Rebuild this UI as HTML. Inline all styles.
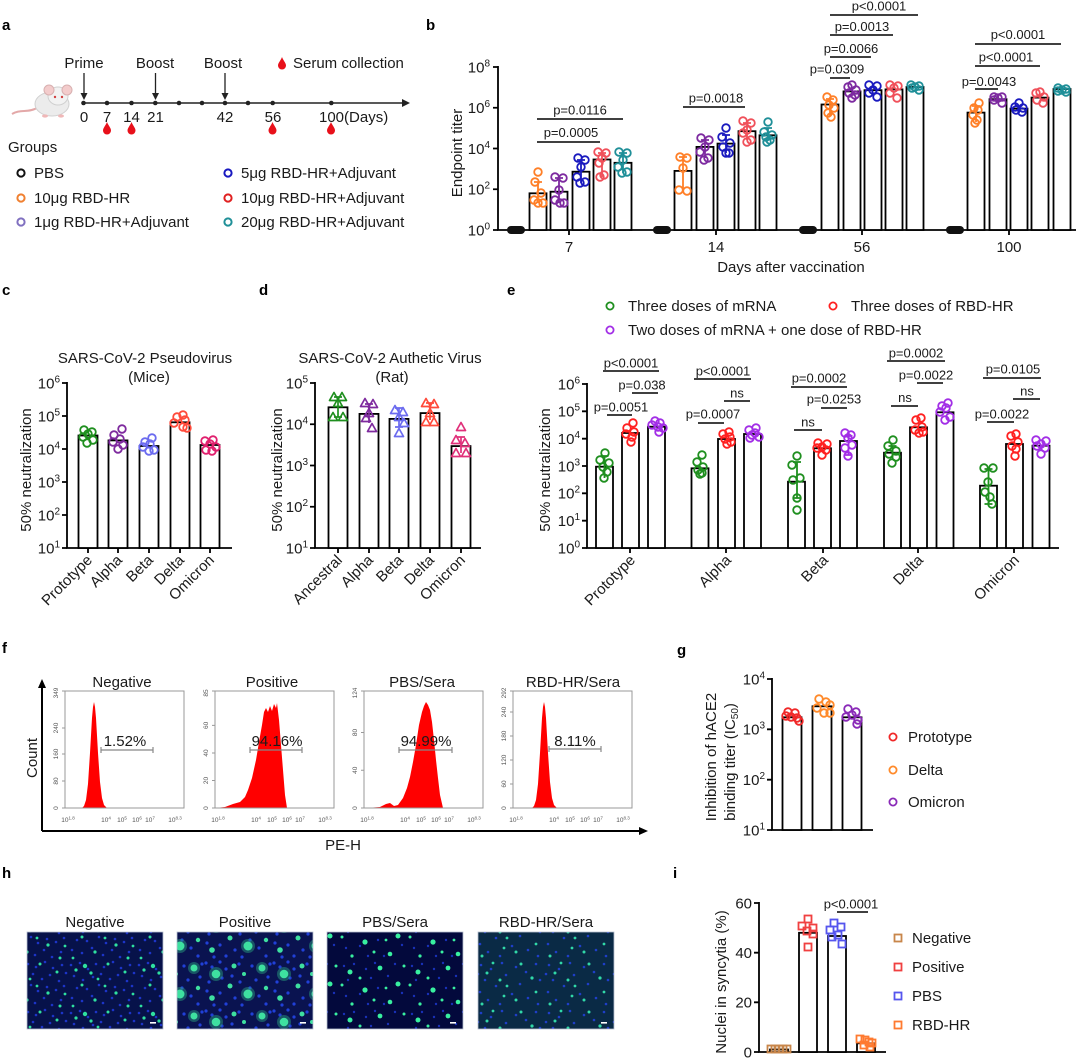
<!DOCTYPE html>
<html><head><meta charset="utf-8">
<style>
html,body{margin:0;padding:0;background:#fff}
svg{display:block}
text{font-family:"Liberation Sans",Arial,sans-serif;font-size:15px;fill:#1a1a1a}
.p{font-size:13px}
.L{font-weight:bold;font-size:15px;fill:#000}
.s{font-size:10px}
.tk{font-size:6.5px;fill:#555}
.ts{font-size:4.5px;fill:#555}
.ax{stroke:#000;stroke-width:1.8;fill:none}
.bar{fill:#fff;stroke:#000;stroke-width:1.8}
.pl{stroke:#000;stroke-width:1.5;fill:none}
</style></head><body>
<svg width="1080" height="1058" viewBox="0 0 1080 1058" xmlns="http://www.w3.org/2000/svg">
<defs>
<pattern id="pn" width="68" height="48" patternUnits="userSpaceOnUse">
<rect width="68" height="48" fill="#07124a"/>
<g fill="#1c34c8"><circle cx="3" cy="5" r="1.3"/><circle cx="12" cy="3" r="1.3"/><circle cx="20" cy="9" r="1.3"/><circle cx="28" cy="4" r="1.3"/><circle cx="36" cy="7" r="1.3"/><circle cx="45" cy="2" r="1.3"/><circle cx="53" cy="8" r="1.3"/><circle cx="62" cy="5" r="1.3"/><circle cx="6" cy="16" r="1.3"/><circle cx="15" cy="20" r="1.3"/><circle cx="25" cy="17" r="1.3"/><circle cx="33" cy="14" r="1.3"/><circle cx="42" cy="19" r="1.3"/><circle cx="50" cy="15" r="1.3"/><circle cx="59" cy="21" r="1.3"/><circle cx="66" cy="13" r="1.3"/><circle cx="9" cy="28" r="1.3"/><circle cx="19" cy="29" r="1.3"/><circle cx="31" cy="25" r="1.3"/><circle cx="38" cy="31" r="1.3"/><circle cx="47" cy="27" r="1.3"/><circle cx="56" cy="30" r="1.3"/><circle cx="64" cy="26" r="1.3"/><circle cx="4" cy="38" r="1.3"/><circle cx="14" cy="41" r="1.3"/><circle cx="24" cy="36" r="1.3"/><circle cx="35" cy="43" r="1.3"/><circle cx="44" cy="38" r="1.3"/><circle cx="52" cy="45" r="1.3"/><circle cx="61" cy="40" r="1.3"/></g>
<g fill="#2ee0a0"><circle cx="8" cy="10" r="1.6"/><circle cx="23" cy="13" r="1.6"/><circle cx="14" cy="25" r="1.5"/><circle cx="30" cy="19" r="1.4"/><circle cx="40" cy="4" r="1.5"/><circle cx="48" cy="33" r="1.6"/><circle cx="57" cy="12" r="1.5"/><circle cx="65" cy="34" r="1.4"/><circle cx="27" cy="40" r="1.6"/><circle cx="5" cy="46" r="1.4"/><circle cx="37" cy="26" r="1.4"/><circle cx="60" cy="46" r="1.5"/><circle cx="17" cy="6" r="2.2"/></g>
</pattern>
<pattern id="pp" width="68" height="48" patternUnits="userSpaceOnUse">
<rect width="68" height="48" fill="#0a1350"/>
<g fill="#2040d8"><circle cx="2" cy="3" r="1.6"/><circle cx="8" cy="7" r="1.6"/><circle cx="16" cy="2" r="1.6"/><circle cx="22" cy="9" r="1.6"/><circle cx="35" cy="4" r="1.6"/><circle cx="48" cy="6" r="1.6"/><circle cx="66" cy="4" r="1.6"/><circle cx="5" cy="22" r="1.6"/><circle cx="18" cy="18" r="1.6"/><circle cx="28" cy="16" r="1.6"/><circle cx="36" cy="22" r="1.6"/><circle cx="52" cy="20" r="1.6"/><circle cx="64" cy="17" r="1.6"/><circle cx="3" cy="31" r="1.6"/><circle cx="16" cy="33" r="1.6"/><circle cx="31" cy="38" r="1.6"/><circle cx="38" cy="45" r="1.6"/><circle cx="55" cy="36" r="1.6"/><circle cx="62" cy="44" r="1.6"/><circle cx="22" cy="44" r="1.6"/><circle cx="10" cy="45" r="1.6"/><circle cx="46" cy="28" r="1.6"/></g>
<g fill="#2aa880" opacity="0.45"><circle cx="12" cy="14" r="7"/><circle cx="44" cy="34" r="7"/><circle cx="58" cy="8" r="6"/></g>
<g fill="#3ee0a0"><circle cx="12" cy="14" r="4.3"/><circle cx="44" cy="34" r="4.5"/><circle cx="58" cy="8" r="3.5"/><circle cx="30" cy="6" r="2.5"/><circle cx="26" cy="26" r="2.5"/><circle cx="62" cy="28" r="2.2"/><circle cx="8" cy="38" r="2.8"/><circle cx="40" cy="14" r="2"/></g>
</pattern>
<pattern id="ps" width="68" height="48" patternUnits="userSpaceOnUse">
<rect width="68" height="48" fill="#03093c"/>
<g fill="#1830b8"><circle cx="4" cy="6" r="1.2"/><circle cx="14" cy="4" r="1.2"/><circle cx="26" cy="9" r="1.2"/><circle cx="35" cy="3" r="1.2"/><circle cx="8" cy="20" r="1.2"/><circle cx="20" cy="34" r="1.2"/><circle cx="31" cy="18" r="1.2"/><circle cx="38" cy="28" r="1.2"/><circle cx="48" cy="16" r="1.2"/><circle cx="55" cy="4" r="1.2"/><circle cx="62" cy="33" r="1.2"/><circle cx="44" cy="44" r="1.2"/><circle cx="6" cy="36" r="1.2"/><circle cx="28" cy="44" r="1.2"/></g>
<g fill="#38f0a0"><circle cx="10" cy="12" r="2.5"/><circle cx="40" cy="8" r="2.4"/><circle cx="25" cy="30" r="2.6"/><circle cx="58" cy="24" r="2.5"/><circle cx="50" cy="42" r="2.3"/><circle cx="2" cy="25" r="1.5"/><circle cx="20" cy="18" r="1.5"/><circle cx="34" cy="40" r="1.5"/><circle cx="64" cy="6" r="1.5"/><circle cx="12" cy="44" r="1.6"/><circle cx="46" cy="28" r="1.4"/></g>
</pattern>
<pattern id="pr" width="68" height="48" patternUnits="userSpaceOnUse">
<rect width="68" height="48" fill="#0a2a45"/>
<g fill="#1e3ec8"><circle cx="5" cy="5" r="1.3"/><circle cx="15" cy="9" r="1.3"/><circle cx="26" cy="3" r="1.3"/><circle cx="30" cy="15" r="1.3"/><circle cx="9" cy="20" r="1.3"/><circle cx="20" cy="26" r="1.3"/><circle cx="2" cy="14" r="1.3"/><circle cx="40" cy="7" r="1.3"/><circle cx="50" cy="12" r="1.3"/><circle cx="60" cy="4" r="1.3"/><circle cx="64" cy="20" r="1.3"/><circle cx="44" cy="24" r="1.3"/><circle cx="36" cy="34" r="1.3"/><circle cx="52" cy="38" r="1.3"/><circle cx="62" cy="44" r="1.3"/><circle cx="12" cy="40" r="1.3"/><circle cx="24" cy="44" r="1.3"/><circle cx="4" cy="32" r="1.3"/></g>
<g fill="#30d8a8"><circle cx="11" cy="13" r="1.5"/><circle cx="24" cy="20" r="1.5"/><circle cx="31" cy="26" r="1.4"/><circle cx="17" cy="3" r="1.4"/><circle cx="45" cy="4" r="1.5"/><circle cx="56" cy="18" r="1.6"/><circle cx="40" cy="40" r="1.5"/><circle cx="60" cy="32" r="1.4"/><circle cx="6" cy="44" r="1.5"/><circle cx="28" cy="36" r="1.4"/></g>
</pattern>
</defs>

<!-- ================= a ================= -->
<text class="L" x="2" y="30">a</text>
<path d="M37,108 C28,113 20,109 12,114" stroke="#e3a8a8" stroke-width="2" fill="none"/>
<ellipse cx="52" cy="104" rx="17" ry="12" fill="#ececec" stroke="#d0d0d0"/>
<ellipse cx="58" cy="96" rx="10" ry="9" fill="#f2f2f2" stroke="#d0d0d0"/>
<circle cx="49" cy="90" r="5" fill="#f3cccc" stroke="#d8b0b0"/>
<circle cx="67" cy="90" r="5" fill="#f3cccc" stroke="#d8b0b0"/>
<circle cx="55" cy="97" r="1.2" fill="#d04040"/><circle cx="62" cy="97" r="1.2" fill="#d04040"/>
<ellipse cx="45" cy="116" rx="3" ry="1.6" fill="#f0b8b8"/><ellipse cx="61" cy="116" rx="3" ry="1.6" fill="#f0b8b8"/>
<path d="M83,103H404" stroke="#222" stroke-width="1.5"/>
<path d="M402,99 L410,103 L402,107Z" fill="#222"/>
<g fill="#222"><circle cx="83.5" cy="103" r="2.3"/><circle cx="107" cy="103" r="2.3"/><circle cx="131.5" cy="103" r="2.3"/><circle cx="155.3" cy="103" r="2.3"/><circle cx="179" cy="103" r="2.3"/><circle cx="202" cy="103" r="2.3"/><circle cx="225" cy="103" r="2.3"/><circle cx="248" cy="103" r="2.3"/><circle cx="272.7" cy="103" r="2.3"/><circle cx="331.3" cy="103" r="2.3"/></g>
<path d="M84,73V96M155.5,73V96M225,73V96" stroke="#222" stroke-width="1.3"/>
<path d="M80.5,93 L84,100 L87.5,93Z M152,93 L155.5,100 L159,93Z M221.5,93 L225,100 L228.5,93Z" fill="#222"/>
<text x="84" y="68" text-anchor="middle">Prime</text>
<text x="155" y="68" text-anchor="middle">Boost</text>
<text x="223" y="68" text-anchor="middle">Boost</text>
<text x="84" y="122" text-anchor="middle">0</text>
<text x="107" y="122" text-anchor="middle">7</text>
<text x="131.5" y="122" text-anchor="middle">14</text>
<text x="155.5" y="122" text-anchor="middle">21</text>
<text x="225" y="122" text-anchor="middle">42</text>
<text x="273" y="122" text-anchor="middle">56</text>
<text x="319" y="122">100(Days)</text>
<g fill="#e8101a">
<path d="M107,122 C108,125 111,128 111,130.5 A4,4 0 0 1 103,130.5 C103,128 106,125 107,122Z"/>
<path d="M131.5,122 C132.5,125 135.5,128 135.5,130.5 A4,4 0 0 1 127.5,130.5 C127.5,128 130.5,125 131.5,122Z"/>
<path d="M272.5,122 C273.5,125 276.5,128 276.5,130.5 A4,4 0 0 1 268.5,130.5 C268.5,128 271.5,125 272.5,122Z"/>
<path d="M331,122 C332,125 335,128 335,130.5 A4,4 0 0 1 327,130.5 C327,128 330,125 331,122Z"/>
<path d="M282,57 C283,60 286,63 286,65.5 A4,4 0 0 1 278,65.5 C278,63 281,60 282,57Z"/>
</g>
<text x="293" y="68">Serum collection</text>
<text x="8" y="152">Groups</text>
<g fill="none" stroke-width="2">
<circle cx="21" cy="173" r="3.6" stroke="#111"/>
<circle cx="21" cy="198" r="3.6" stroke="#f08030"/>
<circle cx="21" cy="222" r="3.6" stroke="#8070c0"/>
<circle cx="228" cy="173" r="3.6" stroke="#1818c0"/>
<circle cx="228" cy="198" r="3.6" stroke="#e02020"/>
<circle cx="228" cy="222" r="3.6" stroke="#209098"/>
</g>
<text x="34" y="178">PBS</text>
<text x="34" y="203">10μg RBD-HR</text>
<text x="34" y="227">1μg RBD-HR+Adjuvant</text>
<text x="241" y="178">5μg RBD-HR+Adjuvant</text>
<text x="241" y="203">10μg RBD-HR+Adjuvant</text>
<text x="241" y="227">20μg RBD-HR+Adjuvant</text>

<!-- ================= b ================= -->
<text class="L" x="426" y="30">b</text>
<path class="ax" d="M498,66V230H1076"/>
<path class="ax" d="M493,67H498M493,107.75H498M493,148.5H498M493,189.25H498M493,230H498M569,230v5M716,230v5M862,230v5M1009,230v5"/>
<text x="490" y="72.3" text-anchor="end">10<tspan class="s" dy="-6">8</tspan></text>
<text x="490" y="113" text-anchor="end">10<tspan class="s" dy="-6">6</tspan></text>
<text x="490" y="153.8" text-anchor="end">10<tspan class="s" dy="-6">4</tspan></text>
<text x="490" y="194.5" text-anchor="end">10<tspan class="s" dy="-6">2</tspan></text>
<text x="490" y="235.3" text-anchor="end">10<tspan class="s" dy="-6">0</tspan></text>
<text transform="translate(462,153) rotate(-90)" text-anchor="middle">Endpoint titer</text>
<text x="569" y="252" text-anchor="middle">7</text>
<text x="716" y="252" text-anchor="middle">14</text>
<text x="862" y="252" text-anchor="middle">56</text>
<text x="1009" y="252" text-anchor="middle">100</text>
<text x="791" y="272" text-anchor="middle">Days after vaccination</text>
<g class="bar">
<rect x="529.5" y="193.3" width="17" height="36.7"/><rect x="550.5" y="191.7" width="17" height="38.3"/><rect x="572.5" y="171.7" width="17" height="58.3"/><rect x="593.5" y="159.5" width="17" height="70.5"/><rect x="614.5" y="162.8" width="17" height="67.2"/>
<rect x="674.5" y="170.9" width="17" height="59.1"/><rect x="696.5" y="146.9" width="17" height="83.1"/><rect x="717.5" y="143.6" width="17" height="86.4"/><rect x="738.5" y="131.2" width="17" height="98.8"/><rect x="759.5" y="135.3" width="17" height="94.7"/>
<rect x="821.5" y="104.5" width="17" height="125.5"/><rect x="843.5" y="91.4" width="17" height="138.6"/><rect x="864.5" y="90.2" width="17" height="139.8"/><rect x="885.5" y="89.4" width="17" height="140.6"/><rect x="906.5" y="87" width="17" height="143"/>
<rect x="967.5" y="112.6" width="17" height="117.4"/><rect x="989.5" y="99.2" width="17" height="130.8"/><rect x="1010.5" y="108.6" width="17" height="121.4"/><rect x="1031.5" y="97.6" width="17" height="132.4"/><rect x="1053.5" y="89" width="17" height="141"/>
</g>
<g fill="#111"><rect x="507" y="226" width="18" height="8" rx="4"/><rect x="653" y="226" width="18" height="8" rx="4"/><rect x="799" y="226" width="18" height="8" rx="4"/><rect x="946" y="226" width="18" height="8" rx="4"/></g>
<g fill="none" stroke-width="1.8">
<g stroke="#ff7f27">
<path d="M538,182V203M534,182h8M683,157V191M679,157h8M830,99V116M826,99h8M976,106V122M972,106h8"/>
<circle cx="538" cy="172" r="3.8"/><circle cx="535" cy="182" r="3.8"/><circle cx="541" cy="193" r="3.8"/><circle cx="534" cy="200" r="3.8"/><circle cx="538" cy="203" r="3.8"/><circle cx="543" cy="203" r="3.8"/>
<circle cx="680" cy="157" r="3.8"/><circle cx="687" cy="158" r="3.8"/><circle cx="683" cy="168" r="3.8"/><circle cx="679" cy="190" r="3.8"/><circle cx="687" cy="191" r="3.8"/>
<circle cx="827" cy="97" r="3.8"/><circle cx="833" cy="100" r="3.8"/><circle cx="829" cy="105" r="3.8"/><circle cx="834" cy="108" r="3.8"/><circle cx="828" cy="113" r="3.8"/><circle cx="831" cy="117" r="3.8"/>
<circle cx="979" cy="103" r="3.8"/><circle cx="974" cy="108" r="3.8"/><circle cx="978" cy="110" r="3.8"/><circle cx="973" cy="115" r="3.8"/><circle cx="977" cy="120" r="3.8"/><circle cx="975" cy="123" r="3.8"/>
</g>
<g stroke="#7d2aa0">
<path d="M559,178V203M555,178h8M705,140V158M701,140h8"/>
<circle cx="555" cy="177" r="3.8"/><circle cx="563" cy="178" r="3.8"/><circle cx="559" cy="190" r="3.8"/><circle cx="555" cy="200" r="3.8"/><circle cx="560" cy="203" r="3.8"/><circle cx="564" cy="203" r="3.8"/>
<circle cx="701" cy="138" r="3.8"/><circle cx="709" cy="140" r="3.8"/><circle cx="705" cy="147" r="3.8"/><circle cx="700" cy="152" r="3.8"/><circle cx="708" cy="158" r="3.8"/><circle cx="704" cy="160" r="3.8"/>
<circle cx="852" cy="85" r="3.8"/><circle cx="848" cy="87" r="3.8"/><circle cx="856" cy="90" r="3.8"/><circle cx="849" cy="93" r="3.8"/><circle cx="855" cy="95" r="3.8"/><circle cx="852" cy="98" r="3.8"/>
<circle cx="994" cy="97" r="3.8"/><circle cx="1002" cy="97" r="3.8"/><circle cx="998" cy="98" r="3.8"/><circle cx="994" cy="100" r="3.8"/><circle cx="1002" cy="103" r="3.8"/>
</g>
<g stroke="#1a1abf">
<path d="M581,160V183M577,160h8M726,135V153M722,135h8"/>
<circle cx="578" cy="158" r="3.8"/><circle cx="585" cy="160" r="3.8"/><circle cx="581" cy="167" r="3.8"/><circle cx="577" cy="177" r="3.8"/><circle cx="585" cy="182" r="3.8"/><circle cx="580" cy="183" r="3.8"/>
<circle cx="726" cy="128" r="3.8"/><circle cx="722" cy="137" r="3.8"/><circle cx="730" cy="143" r="3.8"/><circle cx="723" cy="147" r="3.8"/><circle cx="729" cy="153" r="3.8"/><circle cx="726" cy="153" r="3.8"/>
<circle cx="869" cy="85" r="3.8"/><circle cx="877" cy="86" r="3.8"/><circle cx="873" cy="90" r="3.8"/><circle cx="869" cy="93" r="3.8"/><circle cx="877" cy="97" r="3.8"/>
<circle cx="1019" cy="103" r="3.8"/><circle cx="1015" cy="107" r="3.8"/><circle cx="1023" cy="108" r="3.8"/><circle cx="1016" cy="110" r="3.8"/><circle cx="1022" cy="112" r="3.8"/>
</g>
<g stroke="#f0505a">
<path d="M602,153V177M598,153h8M747,123V140M743,123h8"/>
<circle cx="598" cy="152" r="3.8"/><circle cx="606" cy="153" r="3.8"/><circle cx="602" cy="158" r="3.8"/><circle cx="599" cy="163" r="3.8"/><circle cx="604" cy="175" r="3.8"/><circle cx="600" cy="177" r="3.8"/>
<circle cx="743" cy="121" r="3.8"/><circle cx="751" cy="123" r="3.8"/><circle cx="747" cy="130" r="3.8"/><circle cx="743" cy="133" r="3.8"/><circle cx="751" cy="140" r="3.8"/><circle cx="747" cy="142" r="3.8"/>
<circle cx="890" cy="85" r="3.8"/><circle cx="898" cy="86" r="3.8"/><circle cx="894" cy="88" r="3.8"/><circle cx="890" cy="93" r="3.8"/><circle cx="897" cy="98" r="3.8"/>
<circle cx="1040" cy="92" r="3.8"/><circle cx="1036" cy="93" r="3.8"/><circle cx="1044" cy="97" r="3.8"/><circle cx="1037" cy="100" r="3.8"/><circle cx="1043" cy="103" r="3.8"/>
</g>
<g stroke="#1f8f98">
<path d="M623,153V173M619,153h8M768,128V140M764,128h8"/>
<circle cx="619" cy="152" r="3.8"/><circle cx="627" cy="153" r="3.8"/><circle cx="623" cy="160" r="3.8"/><circle cx="618" cy="167" r="3.8"/><circle cx="627" cy="172" r="3.8"/><circle cx="622" cy="173" r="3.8"/>
<circle cx="768" cy="122" r="3.8"/><circle cx="764" cy="132" r="3.8"/><circle cx="772" cy="135" r="3.8"/><circle cx="766" cy="137" r="3.8"/><circle cx="770" cy="140" r="3.8"/><circle cx="767" cy="142" r="3.8"/>
<circle cx="911" cy="85" r="3.8"/><circle cx="919" cy="86" r="3.8"/><circle cx="915" cy="87" r="3.8"/><circle cx="912" cy="88" r="3.8"/><circle cx="919" cy="90" r="3.8"/>
<circle cx="1058" cy="88" r="3.8"/><circle cx="1066" cy="89" r="3.8"/><circle cx="1062" cy="90" r="3.8"/><circle cx="1058" cy="91" r="3.8"/><circle cx="1066" cy="92" r="3.8"/>
</g>
</g>
<path class="pl" d="M537,119H623M537,142H600M683,107H745M830,78H850M830,57H871M830,35H893M830,15H918M975,89H998M975,66H1040M975,44H1061"/>
<g text-anchor="middle">
<text class="p" x="580" y="114.5">p=0.0116</text>
<text class="p" x="571" y="137">p=0.0005</text>
<text class="p" x="716" y="102.5">p=0.0018</text>
<text class="p" x="837" y="73.5">p=0.0309</text>
<text class="p" x="851" y="53">p=0.0066</text>
<text class="p" x="862" y="31">p=0.0013</text>
<text class="p" x="879" y="10.5">p&lt;0.0001</text>
<text class="p" x="989" y="86">p=0.0043</text>
<text class="p" x="1006" y="61.5">p&lt;0.0001</text>
<text class="p" x="1018" y="39">p&lt;0.0001</text>
</g>

<!-- ================= c ================= -->
<text class="L" x="2" y="295">c</text>
<text x="145" y="363" text-anchor="middle">SARS-CoV-2 Pseudovirus</text>
<text x="149" y="382" text-anchor="middle">(Mice)</text>
<path class="ax" d="M67,382V548H232"/>
<path class="ax" d="M62,383H67M62,416H67M62,449H67M62,482H67M62,515H67M62,548H67M88,548v5M118,548v5M149,548v5M180,548v5M210,548v5"/>
<text x="60" y="388.3" text-anchor="end">10<tspan class="s" dy="-6">6</tspan></text>
<text x="60" y="421.3" text-anchor="end">10<tspan class="s" dy="-6">5</tspan></text>
<text x="60" y="454.3" text-anchor="end">10<tspan class="s" dy="-6">4</tspan></text>
<text x="60" y="487.3" text-anchor="end">10<tspan class="s" dy="-6">3</tspan></text>
<text x="60" y="520.3" text-anchor="end">10<tspan class="s" dy="-6">2</tspan></text>
<text x="60" y="553.3" text-anchor="end">10<tspan class="s" dy="-6">1</tspan></text>
<text transform="translate(31,470) rotate(-90)" text-anchor="middle">50% neutralization</text>
<g class="bar">
<rect x="78.5" y="435.5" width="19" height="112.5"/><rect x="108.5" y="440.4" width="19" height="107.6"/><rect x="139.5" y="446" width="19" height="102"/><rect x="170.5" y="422.3" width="19" height="125.7"/><rect x="200.5" y="445" width="19" height="103"/>
</g>
<g fill="none" stroke-width="1.8">
<g stroke="#1f8f1f"><circle cx="84" cy="430" r="3.8"/><circle cx="92" cy="432" r="3.8"/><circle cx="88" cy="434" r="3.8"/><circle cx="83" cy="437" r="3.8"/><circle cx="93" cy="440" r="3.8"/><circle cx="87" cy="443" r="3.8"/></g>
<g stroke="#7e2a9e"><circle cx="122" cy="429" r="3.8"/><circle cx="114" cy="435" r="3.8"/><circle cx="120" cy="439" r="3.8"/><circle cx="113" cy="442" r="3.8"/><circle cx="123" cy="445" r="3.8"/><circle cx="118" cy="449" r="3.8"/></g>
<g stroke="#6b6bef"><circle cx="152" cy="438" r="3.8"/><circle cx="145" cy="442" r="3.8"/><circle cx="150" cy="444" r="3.8"/><circle cx="143" cy="447" r="3.8"/><circle cx="154" cy="450" r="3.8"/><circle cx="149" cy="451" r="3.8"/></g>
<g stroke="#ff4a3a"><circle cx="183" cy="415" r="3.8"/><circle cx="177" cy="417" r="3.8"/><circle cx="185" cy="420" r="3.8"/><circle cx="174" cy="423" r="3.8"/><circle cx="183" cy="427" r="3.8"/><circle cx="187" cy="428" r="3.8"/></g>
<g stroke="#e0206e"><circle cx="213" cy="440" r="3.8"/><circle cx="205" cy="441" r="3.8"/><circle cx="210" cy="444" r="3.8"/><circle cx="216" cy="447" r="3.8"/><circle cx="206" cy="450" r="3.8"/><circle cx="212" cy="451" r="3.8"/></g>
</g>
<text transform="translate(93,561) rotate(-45)" text-anchor="end">Prototype</text>
<text transform="translate(123,561) rotate(-45)" text-anchor="end">Alpha</text>
<text transform="translate(154,561) rotate(-45)" text-anchor="end">Beta</text>
<text transform="translate(185,561) rotate(-45)" text-anchor="end">Delta</text>
<text transform="translate(215,561) rotate(-45)" text-anchor="end">Omicron</text>

<!-- ================= d ================= -->
<text class="L" x="259" y="295">d</text>
<text x="390" y="363" text-anchor="middle">SARS-CoV-2 Authetic Virus</text>
<text x="392" y="382" text-anchor="middle">(Rat)</text>
<path class="ax" d="M315,382V548H481"/>
<path class="ax" d="M310,383H315M310,424.25H315M310,465.5H315M310,506.75H315M310,548H315M338,548v5M369,548v5M399,548v5M430,548v5M461,548v5"/>
<text x="308" y="388.3" text-anchor="end">10<tspan class="s" dy="-6">5</tspan></text>
<text x="308" y="429.5" text-anchor="end">10<tspan class="s" dy="-6">4</tspan></text>
<text x="308" y="470.8" text-anchor="end">10<tspan class="s" dy="-6">3</tspan></text>
<text x="308" y="512" text-anchor="end">10<tspan class="s" dy="-6">2</tspan></text>
<text x="308" y="553.3" text-anchor="end">10<tspan class="s" dy="-6">1</tspan></text>
<text transform="translate(282,470) rotate(-90)" text-anchor="middle">50% neutralization</text>
<g class="bar">
<rect x="328.5" y="407.3" width="19" height="140.7"/><rect x="359.5" y="413.9" width="19" height="134.1"/><rect x="389.5" y="418.9" width="19" height="129.1"/><rect x="420.5" y="413.1" width="19" height="134.9"/><rect x="451.5" y="446.1" width="19" height="101.9"/>
</g>
<g fill="none" stroke-width="1.7" stroke-linejoin="round">
<g stroke="#1f8f1f"><path d="M338,397V417M334,397h8M334,417h8"/><polygon points="334,392.5 338.5,400.5 329.5,400.5"/><polygon points="342,392.5 346.5,400.5 337.5,400.5"/><polygon points="338,398.5 342.5,406.5 333.5,406.5"/><polygon points="333,412.5 337.5,420.5 328.5,420.5"/><polygon points="343,412.5 347.5,420.5 338.5,420.5"/></g>
<g stroke="#7e2a9e"><path d="M369,404V423M365,404h8"/><polygon points="365,398.5 369.5,406.5 360.5,406.5"/><polygon points="373,399.5 377.5,407.5 368.5,407.5"/><polygon points="369,408.5 373.5,416.5 364.5,416.5"/><polygon points="366,413.5 370.5,421.5 361.5,421.5"/><polygon points="372,423.5 376.5,431.5 367.5,431.5"/></g>
<g stroke="#6b6bef"><path d="M399,408V427M395,408h8M395,427h8"/><polygon points="395,405.5 399.5,413.5 390.5,413.5"/><polygon points="403,407.5 407.5,415.5 398.5,415.5"/><polygon points="399,412.5 403.5,420.5 394.5,420.5"/><polygon points="404,418.5 408.5,426.5 399.5,426.5"/><polygon points="399,428.5 403.5,436.5 394.5,436.5"/></g>
<g stroke="#ff4a3a"><path d="M430,403V420M426,403h8"/><polygon points="426,398.5 430.5,406.5 421.5,406.5"/><polygon points="434,399.5 438.5,407.5 429.5,407.5"/><polygon points="430,408.5 434.5,416.5 425.5,416.5"/><polygon points="426,417.5 430.5,425.5 421.5,425.5"/><polygon points="434,417.5 438.5,425.5 429.5,425.5"/></g>
<g stroke="#e0307a"><path d="M461,437V453M457,437h8"/><polygon points="461,422.5 465.5,430.5 456.5,430.5"/><polygon points="456,435.5 460.5,443.5 451.5,443.5"/><polygon points="465,438.5 469.5,446.5 460.5,446.5"/><polygon points="456,448.5 460.5,456.5 451.5,456.5"/><polygon points="466,448.5 470.5,456.5 461.5,456.5"/></g>
</g>
<text transform="translate(343,561) rotate(-45)" text-anchor="end">Ancestral</text>
<text transform="translate(374,561) rotate(-45)" text-anchor="end">Alpha</text>
<text transform="translate(404,561) rotate(-45)" text-anchor="end">Beta</text>
<text transform="translate(435,561) rotate(-45)" text-anchor="end">Delta</text>
<text transform="translate(466,561) rotate(-45)" text-anchor="end">Omicron</text>

<!-- ================= e ================= -->
<text class="L" x="507" y="295">e</text>
<g fill="none" stroke-width="1.8"><circle cx="610" cy="306" r="3.6" stroke="#1f8f1f"/><circle cx="833" cy="306" r="3.6" stroke="#ff2020"/><circle cx="610" cy="330" r="3.6" stroke="#a22ee6"/></g>
<text x="628" y="311">Three doses of mRNA</text>
<text x="851" y="311">Three doses of RBD-HR</text>
<text x="628" y="335">Two doses of mRNA + one dose of RBD-HR</text>
<path class="ax" d="M587,383V548H1059"/>
<path class="ax" d="M582,384H587M582,411.3H587M582,438.7H587M582,466H587M582,493.3H587M582,520.7H587M582,548H587M630,548v5M726,548v5M823,548v5M918,548v5M1014,548v5"/>
<text x="580" y="389.3" text-anchor="end">10<tspan class="s" dy="-6">6</tspan></text>
<text x="580" y="416.6" text-anchor="end">10<tspan class="s" dy="-6">5</tspan></text>
<text x="580" y="444" text-anchor="end">10<tspan class="s" dy="-6">4</tspan></text>
<text x="580" y="471.3" text-anchor="end">10<tspan class="s" dy="-6">3</tspan></text>
<text x="580" y="498.6" text-anchor="end">10<tspan class="s" dy="-6">2</tspan></text>
<text x="580" y="526" text-anchor="end">10<tspan class="s" dy="-6">1</tspan></text>
<text x="580" y="553.3" text-anchor="end">10<tspan class="s" dy="-6">0</tspan></text>
<text transform="translate(550,470) rotate(-90)" text-anchor="middle">50% neutralization</text>
<g class="bar">
<rect x="596" y="466.7" width="17" height="81.3"/><rect x="622" y="433" width="17" height="115"/><rect x="648" y="426.7" width="17" height="121.3"/>
<rect x="691.5" y="468.3" width="17" height="79.7"/><rect x="718" y="439" width="17" height="109"/><rect x="744" y="434" width="17" height="114"/>
<rect x="788" y="481.7" width="17" height="66.3"/><rect x="814" y="448.3" width="17" height="99.7"/><rect x="840" y="441" width="17" height="107"/>
<rect x="884" y="452.7" width="17" height="95.3"/><rect x="910" y="427.3" width="17" height="120.7"/><rect x="936.5" y="412.3" width="17" height="135.7"/>
<rect x="980" y="485.7" width="17" height="62.3"/><rect x="1006" y="444" width="17" height="104"/><rect x="1032.5" y="445.7" width="17" height="102.3"/>
</g>
<g fill="none" stroke-width="1.8">
<g stroke="#1f8f1f">
<path d="M604.5,456V478M600.5,456h8M797,462V498M793,462h8M793,498h8M988.5,469V504M984.5,469h8M984.5,504h8M892.5,446V460M888.5,446h8"/>
<circle cx="605" cy="453" r="3.8"/><circle cx="600" cy="460" r="3.8"/><circle cx="609" cy="463" r="3.8"/><circle cx="603" cy="467" r="3.8"/><circle cx="607" cy="472" r="3.8"/><circle cx="604" cy="478" r="3.8"/>
<circle cx="702" cy="455" r="3.8"/><circle cx="697" cy="462" r="3.8"/><circle cx="703" cy="467" r="3.8"/><circle cx="698" cy="470" r="3.8"/><circle cx="702" cy="473" r="3.8"/><circle cx="700" cy="474" r="3.8"/>
<circle cx="797" cy="456" r="3.8"/><circle cx="792" cy="465" r="3.8"/><circle cx="800" cy="478" r="3.8"/><circle cx="793" cy="480" r="3.8"/><circle cx="797" cy="498" r="3.8"/><circle cx="797" cy="510" r="3.8"/>
<circle cx="893" cy="440" r="3.8"/><circle cx="888" cy="446" r="3.8"/><circle cx="896" cy="451" r="3.8"/><circle cx="889" cy="454" r="3.8"/><circle cx="896" cy="457" r="3.8"/><circle cx="892" cy="463" r="3.8"/>
<circle cx="984" cy="468" r="3.8"/><circle cx="993" cy="468" r="3.8"/><circle cx="988" cy="482" r="3.8"/><circle cx="985" cy="492" r="3.8"/><circle cx="990" cy="497" r="3.8"/><circle cx="992" cy="504" r="3.8"/>
</g>
<g stroke="#ff2020">
<circle cx="633" cy="423" r="3.8"/><circle cx="627" cy="428" r="3.8"/><circle cx="634" cy="432" r="3.8"/><circle cx="626" cy="434" r="3.8"/><circle cx="632" cy="437" r="3.8"/><circle cx="631" cy="442" r="3.8"/>
<circle cx="729" cy="432" r="3.8"/><circle cx="723" cy="434" r="3.8"/><circle cx="730" cy="437" r="3.8"/><circle cx="725" cy="439" r="3.8"/><circle cx="731" cy="442" r="3.8"/><circle cx="727" cy="444" r="3.8"/>
<circle cx="818" cy="443" r="3.8"/><circle cx="827" cy="444" r="3.8"/><circle cx="822" cy="447" r="3.8"/><circle cx="817" cy="448" r="3.8"/><circle cx="826" cy="450" r="3.8"/><circle cx="822" cy="455" r="3.8"/>
<circle cx="921" cy="418" r="3.8"/><circle cx="916" cy="420" r="3.8"/><circle cx="922" cy="427" r="3.8"/><circle cx="915" cy="430" r="3.8"/><circle cx="923" cy="432" r="3.8"/><circle cx="919" cy="433" r="3.8"/>
<circle cx="1016" cy="434" r="3.8"/><circle cx="1011" cy="436" r="3.8"/><circle cx="1018" cy="442" r="3.8"/><circle cx="1012" cy="446" r="3.8"/><circle cx="1016" cy="449" r="3.8"/><circle cx="1015" cy="456" r="3.8"/>
</g>
<g stroke="#a22ee6">
<path d="M848.5,436V455M844.5,436h8M844.5,455h8"/>
<circle cx="655" cy="421" r="3.8"/><circle cx="660" cy="423" r="3.8"/><circle cx="652" cy="425" r="3.8"/><circle cx="658" cy="427" r="3.8"/><circle cx="663" cy="428" r="3.8"/><circle cx="659" cy="432" r="3.8"/>
<circle cx="756" cy="428" r="3.8"/><circle cx="749" cy="430" r="3.8"/><circle cx="755" cy="433" r="3.8"/><circle cx="752" cy="435" r="3.8"/><circle cx="759" cy="437" r="3.8"/><circle cx="750" cy="438" r="3.8"/>
<circle cx="845" cy="433" r="3.8"/><circle cx="851" cy="435" r="3.8"/><circle cx="848" cy="438" r="3.8"/><circle cx="852" cy="445" r="3.8"/><circle cx="845" cy="448" r="3.8"/><circle cx="848" cy="456" r="3.8"/>
<circle cx="948" cy="403" r="3.8"/><circle cx="942" cy="406" r="3.8"/><circle cx="946" cy="408" r="3.8"/><circle cx="940" cy="412" r="3.8"/><circle cx="950" cy="417" r="3.8"/><circle cx="945" cy="420" r="3.8"/>
<circle cx="1036" cy="440" r="3.8"/><circle cx="1046" cy="441" r="3.8"/><circle cx="1041" cy="444" r="3.8"/><circle cx="1037" cy="446" r="3.8"/><circle cx="1045" cy="448" r="3.8"/><circle cx="1041" cy="454" r="3.8"/>
</g>
</g>
<path class="pl" d="M603,371H659M632,393H658M607,415H632M694,379H751M724,401H750M698,423H724M791,387H847M821,408H847M794,430H822M887,361H945M917,383H943M891,406H918M983,378H1041M1013,399H1040M987,422H1014"/>
<g text-anchor="middle">
<text class="p" x="631" y="367.5">p&lt;0.0001</text>
<text class="p" x="642" y="389.5">p=0.038</text>
<text class="p" x="621" y="411.5">p=0.0051</text>
<text class="p" x="723" y="375.5">p&lt;0.0001</text>
<text class="p" x="737" y="397.5">ns</text>
<text class="p" x="713" y="418.5">p=0.0007</text>
<text class="p" x="819" y="382.5">p=0.0002</text>
<text class="p" x="834" y="403.5">p=0.0253</text>
<text class="p" x="808" y="426.5">ns</text>
<text class="p" x="916" y="357.5">p=0.0002</text>
<text class="p" x="926" y="379.5">p=0.0022</text>
<text class="p" x="905" y="402">ns</text>
<text class="p" x="1013" y="373.5">p=0.0105</text>
<text class="p" x="1027" y="395.5">ns</text>
<text class="p" x="1002" y="418.5">p=0.0022</text>
</g>
<text transform="translate(636,561) rotate(-45)" text-anchor="end">Prototype</text>
<text transform="translate(732,561) rotate(-45)" text-anchor="end">Alpha</text>
<text transform="translate(829,561) rotate(-45)" text-anchor="end">Beta</text>
<text transform="translate(924,561) rotate(-45)" text-anchor="end">Delta</text>
<text transform="translate(1020,561) rotate(-45)" text-anchor="end">Omicron</text>

<!-- ================= f ================= -->
<text class="L" x="2" y="653">f</text>
<path d="M42,831V686M42,831H641" stroke="#000" stroke-width="2" fill="none"/>
<path d="M38,688 L42,679 L46,688Z M639,827 L648,831 L639,835Z" fill="#000"/>
<text transform="translate(37,758) rotate(-90)" text-anchor="middle">Count</text>
<text x="343" y="850" text-anchor="middle">PE-H</text>
<text x="122" y="687" text-anchor="middle">Negative</text>
<text x="272" y="687" text-anchor="middle">Positive</text>
<text x="422" y="687" text-anchor="middle">PBS/Sera</text>
<text x="573" y="687" text-anchor="middle">RBD-HR/Sera</text>
<g fill="#ff0000">
<polygon points="82,808 84,806 86,800 88,784 90,753 92,718 93,707 94,702 95,707 96,718 98,753 100,782 102,798 104,805 107,808"/>
<polygon points="532,808 534,806 536,800 538,784 540,753 542,718 543,707 544,702 545,707 546,718 548,753 550,782 552,798 554,805 557,808"/>
<polygon points="215,808 225,807 233,804 240,802 245,797 248,790 252,778 256,760 259,742 262,725 264,712 266,708 268,712 270,706 272,711 274,704 276,708 277,703 279,720 281,745 283,770 285,795 287,808"/>
<polygon points="366,808 380,807 386,804 390,803 394,806 398,805 403,798 407,788 410,777 413,762 416,745 419,725 422,712 424,706 426,702 428,705 430,710 432,722 434,740 436,760 438,778 440,795 443,808"/>
</g>
<g fill="none" stroke="#999" stroke-width="1">
<rect x="65" y="691" width="119" height="117"/><rect x="215" y="691" width="119" height="117"/><rect x="364" y="691" width="119" height="117"/><rect x="513" y="691" width="119" height="117"/>
<path d="M62,808h3M62,781h3M62,754h3M62,728h3M62,691h3M212,808h3M212,780.5h3M212,753h3M212,725.4h3M212,691h3M361,808h3M361,770.3h3M361,732.5h3M361,691h3M510,808h3M510,784h3M510,760h3M510,736h3M510,712h3M510,691h3"/>
</g>
<g text-anchor="middle">
<text class="tk" transform="translate(58,808) rotate(-90)">0</text><text class="tk" transform="translate(58,781) rotate(-90)">80</text><text class="tk" transform="translate(58,754) rotate(-90)">160</text><text class="tk" transform="translate(58,728) rotate(-90)">240</text><text class="tk" transform="translate(58,693) rotate(-90)">349</text>
<text class="tk" transform="translate(208,808) rotate(-90)">0</text><text class="tk" transform="translate(208,780.5) rotate(-90)">20</text><text class="tk" transform="translate(208,753) rotate(-90)">40</text><text class="tk" transform="translate(208,725.4) rotate(-90)">60</text><text class="tk" transform="translate(208,693) rotate(-90)">85</text>
<text class="tk" transform="translate(357,808) rotate(-90)">0</text><text class="tk" transform="translate(357,770.3) rotate(-90)">40</text><text class="tk" transform="translate(357,732.5) rotate(-90)">80</text><text class="tk" transform="translate(357,693) rotate(-90)">124</text>
<text class="tk" transform="translate(506,808) rotate(-90)">0</text><text class="tk" transform="translate(506,784) rotate(-90)">60</text><text class="tk" transform="translate(506,760) rotate(-90)">120</text><text class="tk" transform="translate(506,736) rotate(-90)">180</text><text class="tk" transform="translate(506,712) rotate(-90)">240</text><text class="tk" transform="translate(506,693) rotate(-90)">292</text>
</g>
<g text-anchor="middle">
<text class="tk" x="68" y="822">10<tspan class="ts" dy="-2.5">1.8</tspan></text><text class="tk" x="106" y="822">10<tspan class="ts" dy="-2.5">4</tspan></text><text class="tk" x="122" y="822">10<tspan class="ts" dy="-2.5">5</tspan></text><text class="tk" x="137" y="822">10<tspan class="ts" dy="-2.5">6</tspan></text><text class="tk" x="150" y="822">10<tspan class="ts" dy="-2.5">7</tspan></text><text class="tk" x="175" y="822">10<tspan class="ts" dy="-2.5">8.3</tspan></text>
<text class="tk" x="218" y="822">10<tspan class="ts" dy="-2.5">1.8</tspan></text><text class="tk" x="256" y="822">10<tspan class="ts" dy="-2.5">4</tspan></text><text class="tk" x="272" y="822">10<tspan class="ts" dy="-2.5">5</tspan></text><text class="tk" x="287" y="822">10<tspan class="ts" dy="-2.5">6</tspan></text><text class="tk" x="300" y="822">10<tspan class="ts" dy="-2.5">7</tspan></text><text class="tk" x="325" y="822">10<tspan class="ts" dy="-2.5">8.3</tspan></text>
<text class="tk" x="367" y="822">10<tspan class="ts" dy="-2.5">1.8</tspan></text><text class="tk" x="405" y="822">10<tspan class="ts" dy="-2.5">4</tspan></text><text class="tk" x="421" y="822">10<tspan class="ts" dy="-2.5">5</tspan></text><text class="tk" x="436" y="822">10<tspan class="ts" dy="-2.5">6</tspan></text><text class="tk" x="449" y="822">10<tspan class="ts" dy="-2.5">7</tspan></text><text class="tk" x="474" y="822">10<tspan class="ts" dy="-2.5">8.3</tspan></text>
<text class="tk" x="516" y="822">10<tspan class="ts" dy="-2.5">1.8</tspan></text><text class="tk" x="554" y="822">10<tspan class="ts" dy="-2.5">4</tspan></text><text class="tk" x="570" y="822">10<tspan class="ts" dy="-2.5">5</tspan></text><text class="tk" x="585" y="822">10<tspan class="ts" dy="-2.5">6</tspan></text><text class="tk" x="598" y="822">10<tspan class="ts" dy="-2.5">7</tspan></text><text class="tk" x="623" y="822">10<tspan class="ts" dy="-2.5">8.3</tspan></text>
</g>
<path d="M101,750H153M101,747v6M153,747v6M250,750H302M250,747v6M302,747v6M399,750H452M399,747v6M452,747v6M549,749H601M549,746v6M601,746v6" stroke="#888" stroke-width="1.2" fill="none"/>
<text x="125" y="746" text-anchor="middle">1.52%</text>
<text x="277" y="746" text-anchor="middle">94.16%</text>
<text x="426" y="746" text-anchor="middle">94.99%</text>
<text x="575" y="746" text-anchor="middle">8.11%</text>

<!-- ================= g ================= -->
<text class="L" x="677" y="655">g</text>
<path class="ax" d="M772,678V830H873"/>
<path class="ax" d="M767,679H772M767,729.3H772M767,779.7H772M767,830H772"/>
<text x="765" y="684.3" text-anchor="end">10<tspan class="s" dy="-6">4</tspan></text>
<text x="765" y="734.6" text-anchor="end">10<tspan class="s" dy="-6">3</tspan></text>
<text x="765" y="785" text-anchor="end">10<tspan class="s" dy="-6">2</tspan></text>
<text x="765" y="835.3" text-anchor="end">10<tspan class="s" dy="-6">1</tspan></text>
<text transform="translate(716,757) rotate(-90)" text-anchor="middle">Inhibition of hACE2</text>
<text transform="translate(735,762) rotate(-90)" text-anchor="middle">binding titer (IC<tspan class="s" dy="3">50</tspan><tspan dy="-3">)</tspan></text>
<g class="bar"><rect x="782.5" y="717.3" width="19" height="112.7"/><rect x="812.5" y="706.3" width="19" height="123.7"/><rect x="842.5" y="717.3" width="19" height="112.7"/></g>
<g fill="none" stroke-width="1.8">
<g stroke="#f02828"><circle cx="788" cy="712" r="3.8"/><circle cx="795" cy="713" r="3.8"/><circle cx="791" cy="717" r="3.8"/><circle cx="797" cy="718" r="3.8"/><circle cx="786" cy="716" r="3.8"/><circle cx="799" cy="721" r="3.8"/></g>
<g stroke="#ff8a2a"><circle cx="819" cy="699" r="3.8"/><circle cx="826" cy="702" r="3.8"/><circle cx="830" cy="705" r="3.8"/><circle cx="817" cy="708" r="3.8"/><circle cx="824" cy="713" r="3.8"/><circle cx="830" cy="713" r="3.8"/></g>
<g stroke="#8a2ab8"><circle cx="848" cy="709" r="3.8"/><circle cx="856" cy="712" r="3.8"/><circle cx="852" cy="715" r="3.8"/><circle cx="846" cy="717" r="3.8"/><circle cx="858" cy="720" r="3.8"/><circle cx="857" cy="724" r="3.8"/></g>
<circle cx="893" cy="737" r="3.6" stroke="#f02828"/><circle cx="893" cy="770" r="3.6" stroke="#ff8a2a"/><circle cx="893" cy="802" r="3.6" stroke="#8a2ab8"/>
</g>
<text x="908" y="742">Prototype</text>
<text x="908" y="775">Delta</text>
<text x="908" y="807">Omicron</text>

<!-- ================= h ================= -->
<text class="L" x="2" y="878">h</text>
<text x="95" y="927" text-anchor="middle">Negative</text>
<text x="245" y="927" text-anchor="middle">Positive</text>
<text x="395" y="927" text-anchor="middle">PBS/Sera</text>
<text x="546" y="927" text-anchor="middle">RBD-HR/Sera</text>
<rect x="27" y="932" width="136" height="97" fill="url(#pn)" stroke="#b8c0d0" stroke-width="0.8"/>
<rect x="177" y="932" width="136" height="97" fill="url(#pp)" stroke="#b8c0d0" stroke-width="0.8"/>
<rect x="327" y="932" width="136" height="97" fill="url(#ps)" stroke="#b8c0d0" stroke-width="0.8"/>
<rect x="478" y="932" width="136" height="97" fill="url(#pr)" stroke="#b8c0d0" stroke-width="0.8"/>
<g fill="#fff"><rect x="150" y="1022" width="6" height="1.6"/><rect x="300" y="1022" width="6" height="1.6"/><rect x="450" y="1022" width="6" height="1.6"/><rect x="601" y="1022" width="6" height="1.6"/></g>

<!-- ================= i ================= -->
<text class="L" x="673" y="878">i</text>
<path class="ax" d="M759,902V1052H886"/>
<path class="ax" d="M754,903H759M754,952.7H759M754,1002.3H759M754,1052H759"/>
<text x="752" y="908.3" text-anchor="end">60</text>
<text x="752" y="958" text-anchor="end">40</text>
<text x="752" y="1007.6" text-anchor="end">20</text>
<text x="752" y="1057.3" text-anchor="end">0</text>
<text transform="translate(726,982) rotate(-90)" text-anchor="middle">Nuclei in syncytia (%)</text>
<g class="bar"><rect x="770" y="1049.5" width="18" height="2.5"/><rect x="799" y="932.8" width="18" height="119.2"/><rect x="828" y="936" width="18" height="116"/><rect x="857" y="1043.3" width="18" height="8.7"/></g>
<g fill="none" stroke-width="1.8">
<g stroke="#c8864a"><rect x="767.5" y="1045.5" width="7" height="7"/><rect x="771.5" y="1045.5" width="7" height="7"/><rect x="775.5" y="1045.5" width="7" height="7"/><rect x="779.5" y="1045.5" width="7" height="7"/><rect x="783.5" y="1045.5" width="7" height="7"/></g>
<g stroke="#f04040"><rect x="804.5" y="915.5" width="7" height="7"/><rect x="798.5" y="922.5" width="7" height="7"/><rect x="809.5" y="924.5" width="7" height="7"/><rect x="803.5" y="927.5" width="7" height="7"/><rect x="809.5" y="930.5" width="7" height="7"/><rect x="804.5" y="943.5" width="7" height="7"/></g>
<g stroke="#5555ee"><rect x="830.5" y="919.5" width="7" height="7"/><rect x="837.5" y="923.5" width="7" height="7"/><rect x="826.5" y="926.5" width="7" height="7"/><rect x="834.5" y="931.5" width="7" height="7"/><rect x="828.5" y="933.5" width="7" height="7"/><rect x="838.5" y="940.5" width="7" height="7"/></g>
<g stroke="#ff7a30"><rect x="856.5" y="1035.5" width="7" height="7"/><rect x="861.5" y="1036.5" width="7" height="7"/><rect x="865.5" y="1038.5" width="7" height="7"/><rect x="868.5" y="1039.5" width="7" height="7"/><rect x="860.5" y="1041.5" width="7" height="7"/><rect x="866.5" y="1043.5" width="7" height="7"/></g>
<rect x="894.5" y="934.5" width="7" height="7" stroke="#c8864a"/><rect x="894.5" y="963.5" width="7" height="7" stroke="#f04040"/><rect x="894.5" y="992.5" width="7" height="7" stroke="#5555ee"/><rect x="894.5" y="1021.5" width="7" height="7" stroke="#ff7a30"/>
</g>
<path class="pl" d="M837,912H868"/>
<text class="p" x="851" y="908.5" text-anchor="middle">p&lt;0.0001</text>
<text x="912" y="943">Negative</text>
<text x="912" y="972">Positive</text>
<text x="912" y="1001">PBS</text>
<text x="912" y="1030">RBD-HR</text>
</svg>
</body></html>
